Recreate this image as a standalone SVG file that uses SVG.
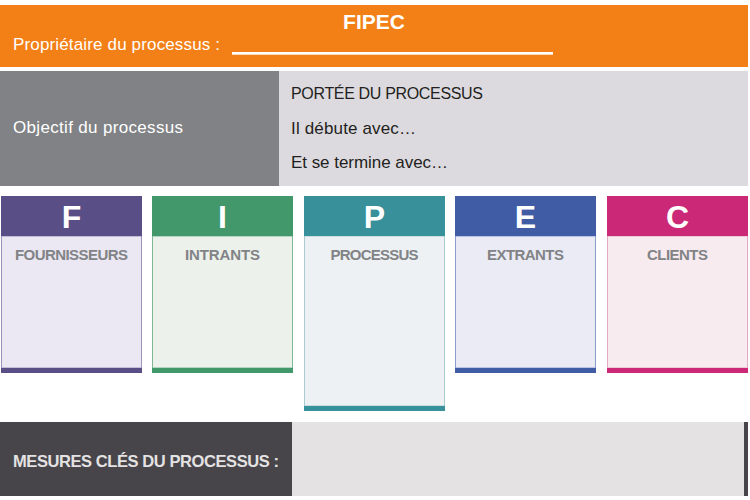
<svg xmlns="http://www.w3.org/2000/svg" width="750" height="500" viewBox="0 0 750 500">
<style>
.t{font-family:"Liberation Sans",Arial,sans-serif;}
.hdr{font-family:"Liberation Sans",Arial,sans-serif;font-weight:bold;font-size:32px;fill:#ffffff;text-anchor:middle;}
.lbl{font-family:"Liberation Sans",Arial,sans-serif;font-weight:bold;font-size:15px;fill:#818386;text-anchor:middle;}
.body{stroke-width:1;}
</style>
<rect width="750" height="500" fill="#ffffff"/>
<g id="header">
<rect x="0" y="5" width="748" height="62" fill="#f37f17"/>
<text class="t" x="374" y="29" font-size="21" font-weight="bold" fill="#ffffff" text-anchor="middle">FIPEC</text>
<text class="t" x="13" y="50" font-size="17" fill="#ffffff" textLength="207">Propriétaire du processus :</text>
<rect x="232" y="52" width="321" height="2.7" fill="#ffffff"/>
</g>
<g id="objectif">
<rect x="0" y="71" width="279" height="115" fill="#808285"/>
<text class="t" x="13" y="133" font-size="17" fill="#ffffff" textLength="170">Objectif du processus</text>
</g>
<g id="portee">
<rect x="279" y="71" width="469" height="115" fill="#dcdadf"/>
<text class="t" x="291" y="99" font-size="16" fill="#231f20" textLength="192">PORTÉE DU PROCESSUS</text>
<text class="t" x="291" y="134" font-size="17" fill="#231f20" textLength="125">Il débute avec…</text>
<text class="t" x="291" y="168" font-size="17" fill="#231f20" textLength="157">Et se termine avec…</text>
</g>
<g id="col-F">
<rect class="body" x="1.5" y="236" width="140" height="132" fill="#ebe8f3" stroke="#9a92b8"/>
<rect x="1" y="196" width="141" height="40" fill="#5a4e87"/>
<rect x="1" y="368" width="141" height="5" fill="#5a4e87"/>
<text class="hdr" x="71.5" y="228">F</text>
<text class="lbl" x="71.5" y="260" textLength="113">FOURNISSEURS</text>
</g>
<g id="col-I">
<rect class="body" x="152.5" y="236" width="140" height="132" fill="#ecf1ec" stroke="#7fb795"/>
<rect x="152" y="196" width="141" height="40" fill="#42976b"/>
<rect x="152" y="368" width="141" height="5" fill="#42976b"/>
<text class="hdr" x="222.5" y="228">I</text>
<text class="lbl" x="222.5" y="260" textLength="75">INTRANTS</text>
</g>
<g id="col-P">
<rect class="body" x="304.5" y="236" width="140" height="170" fill="#edf1f4" stroke="#a9ccd0"/>
<rect x="304" y="196" width="141" height="40" fill="#38909a"/>
<rect x="304" y="406" width="141" height="5" fill="#38909a"/>
<text class="hdr" x="374.5" y="228">P</text>
<text class="lbl" x="374.5" y="260" textLength="88">PROCESSUS</text>
</g>
<g id="col-E">
<rect class="body" x="455.5" y="236" width="140" height="132" fill="#ebebf5" stroke="#8b9bcb"/>
<rect x="455" y="196" width="141" height="40" fill="#405ca4"/>
<rect x="455" y="368" width="141" height="5" fill="#405ca4"/>
<text class="hdr" x="525.5" y="228">E</text>
<text class="lbl" x="525.5" y="260" textLength="77">EXTRANTS</text>
</g>
<g id="col-C">
<rect class="body" x="607.5" y="236" width="140" height="132" fill="#f7ebf0" stroke="#e2a9c2"/>
<rect x="607" y="196" width="141" height="40" fill="#cb2877"/>
<rect x="607" y="368" width="141" height="5" fill="#cb2877"/>
<text class="hdr" x="677.5" y="228">C</text>
<text class="lbl" x="677.5" y="260" textLength="61">CLIENTS</text>
</g>
<g id="mesures">
<rect x="0" y="422" width="292" height="74" fill="#47454a"/>
<rect x="292" y="422" width="452" height="74" fill="#e4e2e3"/>
<rect x="744" y="422" width="4" height="74" fill="#47454a"/>
<text class="t" x="13" y="467" font-size="16.5" font-weight="bold" fill="#e4e2e3" textLength="266">MESURES CLÉS DU PROCESSUS :</text>
</g>
<g id="connectors"/>
</svg>
